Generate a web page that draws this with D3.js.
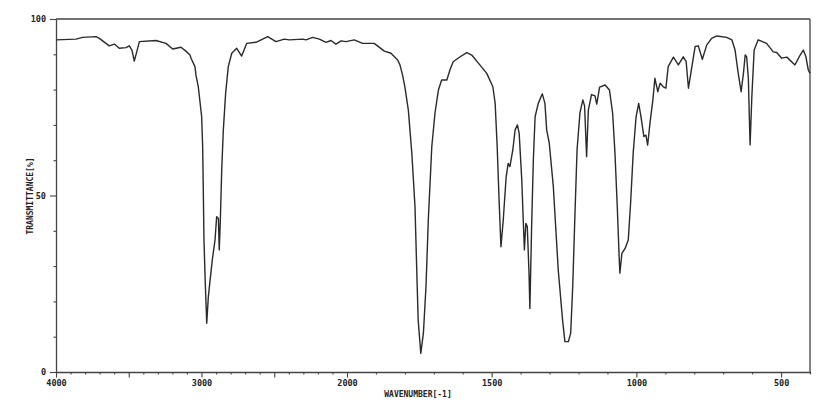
<!DOCTYPE html>
<html>
<head>
<meta charset="utf-8">
<script src="https://cdn.jsdelivr.net/npm/d3@7"></script>
<style>
html,body{margin:0;padding:0;background:#fff;}
svg text{font-family:"DejaVu Sans Mono",monospace;fill:#222;font-weight:bold;}
</style>
</head>
<body>
<svg id="chart" width="837" height="420"></svg>
<script>
// Wavenumber (cm-1) samples of the IR spectrum
const wavenumber = [4000,3863,3817,3725,3702,3634,3599,3565,3519,3496,3478,3462,3445,3427,3313,3244,3198,3141,3107,3079,3072,3045,3038,3022,2999,2992,2988,2983,2974,2964,2953,2942,2926,2907,2896,2884,2878,2871,2861,2850,2834,2816,2792,2758,2724,2689,2625,2545,2488,2431,2397,2304,2282,2236,2190,2144,2110,2076,2041,2007,
1975,1946,1906,1871,1848,1825,1817,1808,1800,1788,1776,1765,1759,1754,1745,1736,1727,1719,1707,1696,1684,1673,1655,1644,1633,1609,1586,1569,1546,1517,1496,1488,1481,1474,1468,1460,1450,1443,1437,1427,1419,1411,1405,1396,1391,1387,1382,1377,1371,1368,1362,1356,1350,1339,1325,1316,1310,1301,1287,1270,1255,1247,1235,1227,1220,1212,1205,1195,1185,1179,1172,1166,1155,1143,1137,1127,1108,1093,1082,1074,1066,1060,1057,1050,1039,1028,1020,1011,1001,992,984,974,967,961,953,943,936,926,918,907,898,890,872,855,838,828,820,809,797,786,772,757,740,722,688,670,659,648,638,630,624,619,613,610,607,601,593,579,550,527,515,498,480,452,434,423,414,406,400];
// Transmittance (%) at each wavenumber
const transmittance = [94.1,94.3,94.8,95.0,94.5,92.4,92.9,91.7,91.9,92.4,91.2,88.1,90.7,93.6,93.9,93.1,91.5,92.0,90.9,89.8,88.9,86.5,84.1,80.8,72.3,63.8,52.5,37.4,25.1,13.8,21.3,25.6,31.7,37.4,44.0,43.5,34.6,42.5,57.2,68.6,79.0,86.5,90.3,91.7,89.5,93.1,93.4,95.0,93.6,94.3,94.1,94.3,94.1,94.8,94.3,93.4,93.9,92.9,93.8,93.6,
94.1,93.1,93.1,90.9,90.3,88.4,87.0,84.1,80.8,74.2,62.0,46.8,28.9,14.7,5.3,11.0,24.2,43.1,63.8,73.3,79.9,82.7,82.7,85.6,87.9,89.3,90.5,89.8,87.5,84.6,80.8,76.1,63.8,47.8,35.5,43.1,55.3,59.1,58.2,62.9,68.6,70.0,67.6,54.4,43.1,34.6,42.1,41.2,28.0,18.0,41.2,60.1,72.3,76.1,78.8,76.1,68.6,64.8,52.5,28.9,14.7,8.6,8.6,11.0,24.2,45.3,62.9,73.4,77.1,75.4,61.0,74.2,78.6,78.2,75.9,80.7,81.3,79.9,73.3,62.0,46.8,33.6,28.0,33.6,35.0,37.4,47.8,62.0,72.3,76.1,72.3,66.7,67.1,64.3,70.5,77.1,83.2,79.4,81.8,80.8,80.4,86.5,89.2,87.0,89.3,87.9,80.4,86.1,92.2,92.4,88.6,92.6,94.5,95.2,94.8,94.1,91.2,84.6,79.4,84.6,89.8,89.3,83.2,73.3,64.3,78.0,91.2,94.1,93.1,90.7,90.5,88.9,89.2,87.0,89.8,91.2,89.3,85.6,84.6];
const xTickValues = d3.range(4000, 399, -100);
const xTickLabels = [4000,3000,2000,1500,1000,500];
const yTickValues = d3.range(0, 101, 10);
const yTickLabels = [0,50,100];
const xTitle = "WAVENUMBER[-1]";
const yTitle = "TRANSMITTANCE[%]";

const svg = d3.select("#chart");
const x = d3.scaleLinear().domain([4000,2000,400]).range([56,347,810]);
const y = d3.scaleLinear().domain([0,100]).range([372,19]);
const axisColor = "#444";

// frame: top and right
svg.append("line").attr("x1",x(4000)).attr("x2",x(400)).attr("y1",y(100)).attr("y2",y(100))
  .attr("stroke",axisColor).attr("stroke-width",1.3);
svg.append("line").attr("x1",x(400)).attr("x2",x(400)).attr("y1",y(100)).attr("y2",y(0))
  .attr("stroke",axisColor).attr("stroke-width",1.3);

// x axis
const xAxis = d3.axisBottom(x).tickValues(xTickValues)
  .tickSize(0).tickFormat(d => xTickLabels.includes(d) ? d : "");
const gx = svg.append("g").attr("transform",`translate(0,${y(0)})`).call(xAxis);
gx.select(".domain").attr("stroke",axisColor).attr("stroke-width",1.3);
gx.selectAll(".tick line").attr("stroke",axisColor).attr("stroke-width",1.1)
  .attr("y2", d => d % 500 === 0 ? 5.5 : 2.5);
gx.selectAll(".tick text").attr("y",8).attr("font-size","8.5px").attr("fill","#222");

// y axis
const yAxis = d3.axisLeft(y).tickValues(yTickValues)
  .tickSize(0).tickFormat(d => yTickLabels.includes(d) ? d : "");
const gy = svg.append("g").attr("transform",`translate(${x(4000)},0)`).call(yAxis);
gy.select(".domain").attr("stroke",axisColor).attr("stroke-width",1.3);
gy.selectAll(".tick line").attr("stroke",axisColor).attr("stroke-width",1.1)
  .attr("x2", d => d % 50 === 0 ? -6 : -2.5);
gy.selectAll(".tick text").attr("x",-10).attr("font-size","8.5px").attr("fill","#222");

// titles
svg.append("text").attr("x",418).attr("y",397).attr("text-anchor","middle")
  .attr("font-size","8px").text(xTitle);
svg.append("text").attr("transform","translate(33,196) rotate(-90)").attr("text-anchor","middle")
  .attr("font-size","8px").text(yTitle);

// spectrum
const data = wavenumber.map((w,i) => [w, transmittance[i]]);
svg.append("path").datum(data)
  .attr("fill","none").attr("stroke","#2a2a2a").attr("stroke-width",1.4)
  .attr("stroke-linejoin","round")
  .attr("d", d3.line().x(d => x(d[0])).y(d => y(d[1])));
</script>
</body>
</html>
